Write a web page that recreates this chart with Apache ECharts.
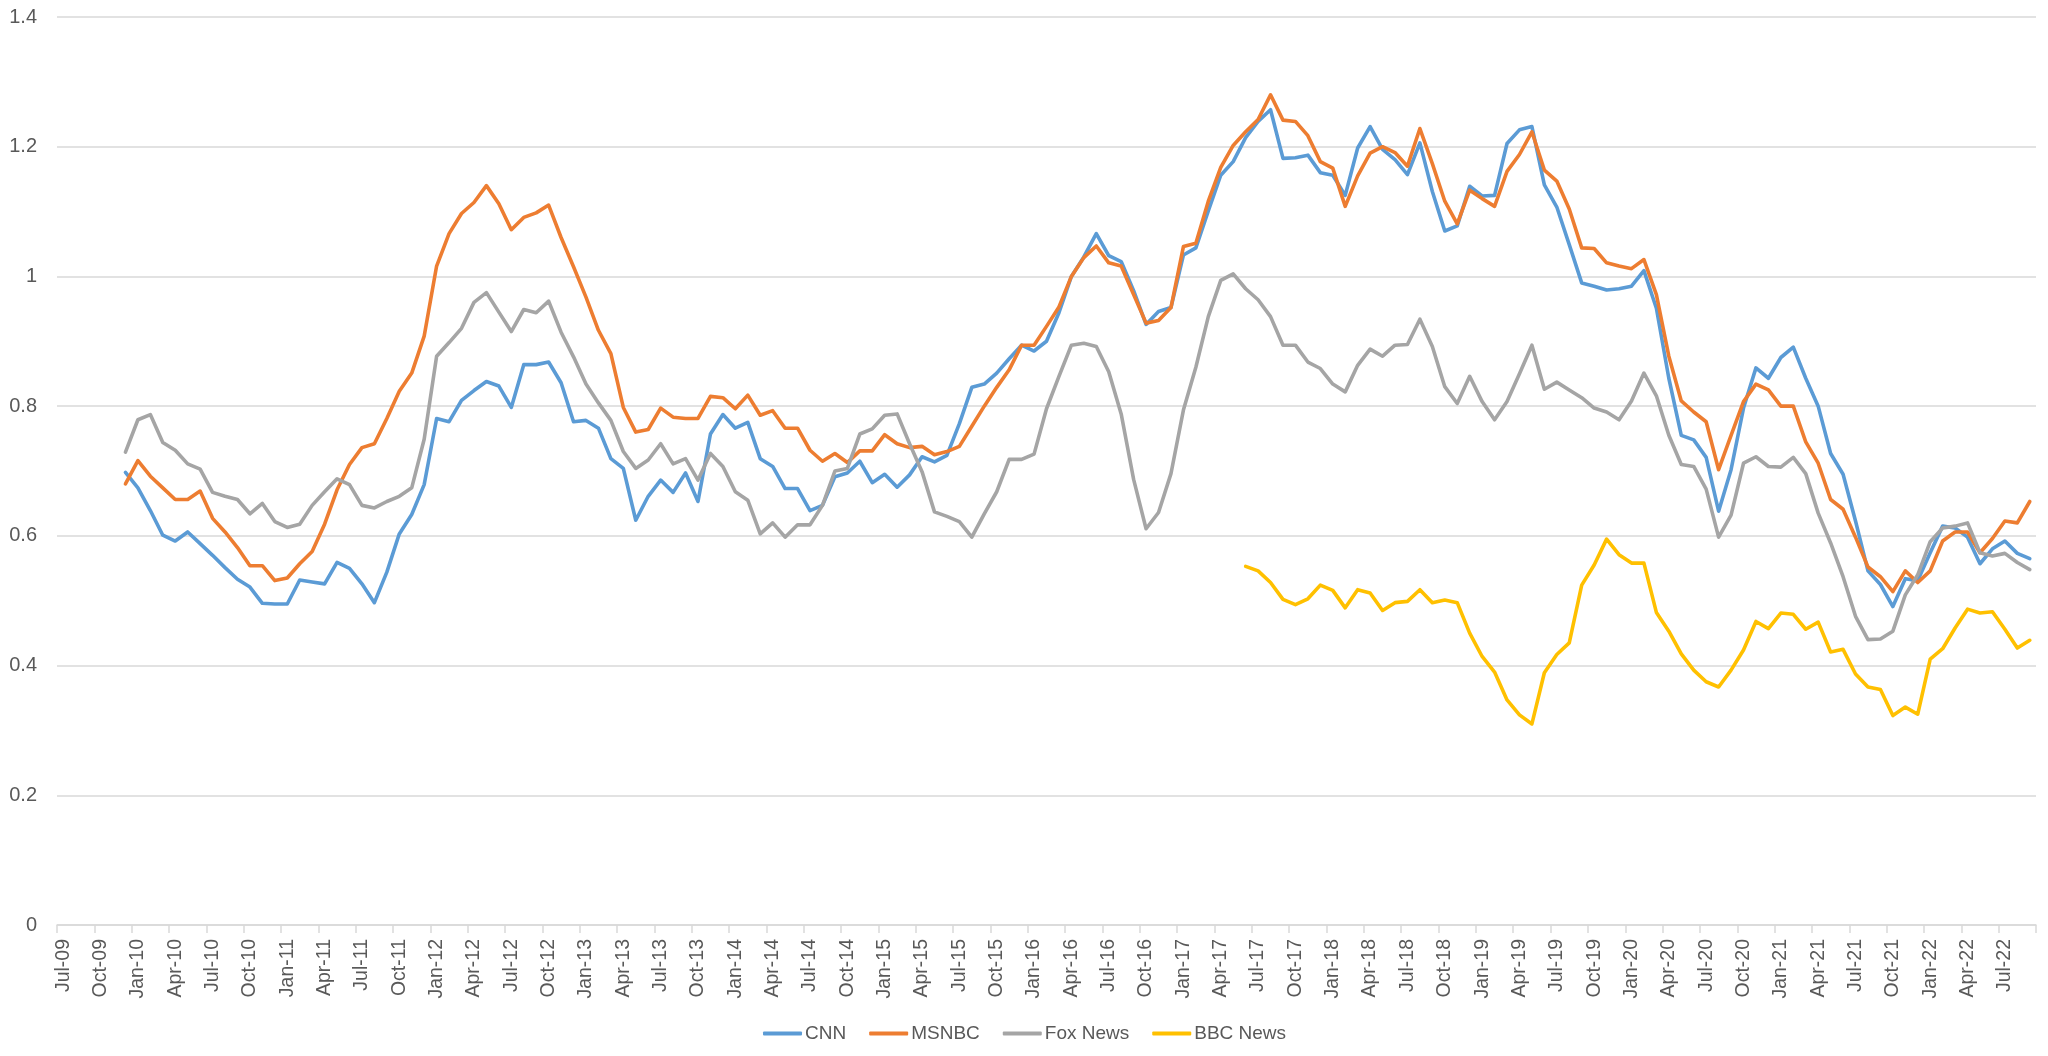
<!DOCTYPE html>
<html>
<head>
<meta charset="utf-8">
<script src="https://cdn.jsdelivr.net/npm/echarts@6/dist/echarts.min.js"></script>
<style>
html,body{margin:0;padding:0;background:#fff;}
#chart{width:2048px;height:1056px;}
</style>
</head>
<body>
<div id="chart"></div>
<script>
// Categories: monthly, Jul-09 .. Sep-22
const monthNames = ['Jan','Feb','Mar','Apr','May','Jun','Jul','Aug','Sep','Oct','Nov','Dec'];
const startYear = 2009, startMonth = 6, monthCount = 159;
const categories = [];
for (let k = 0; k < monthCount; k++) {
  const m = (startMonth + k) % 12;
  const y = startYear + Math.floor((startMonth + k) / 12);
  categories.push(monthNames[m] + '-' + String(y % 100).padStart(2, '0'));
}

const yTicks = [0, 0.2, 0.4, 0.6, 0.8, 1.0, 1.2, 1.4];
const seriesNames = ['CNN', 'MSNBC', 'Fox News', 'BBC News'];

// Dec-09 .. Sep-22
const cnn = [null,null,null,null,null,
0.698,0.674,0.639,0.601,0.592,0.606,0.588,0.570,0.551,0.533,
0.521,0.496,0.495,0.495,0.532,0.529,0.526,0.559,0.550,0.526,
0.497,0.544,0.603,0.633,0.679,0.781,0.776,0.809,0.824,0.838,
0.831,0.798,0.864,0.864,0.868,0.836,0.776,0.778,0.766,0.719,
0.704,0.624,0.661,0.686,0.667,0.697,0.653,0.757,0.787,0.766,
0.775,0.719,0.707,0.673,0.673,0.639,0.647,0.691,0.697,0.715,
0.682,0.695,0.675,0.694,0.722,0.714,0.724,0.773,0.829,0.834,
0.851,0.873,0.894,0.885,0.900,0.944,1.000,1.030,1.066,1.032,
1.023,0.978,0.926,0.946,0.952,1.033,1.044,1.101,1.156,1.177,
1.214,1.239,1.257,1.182,1.183,1.187,1.160,1.156,1.125,1.198,
1.231,1.196,1.180,1.157,1.206,1.131,1.070,1.078,1.139,1.124,
1.125,1.205,1.226,1.231,1.141,1.107,1.049,0.990,0.985,0.979,
0.981,0.985,1.009,0.951,0.843,0.755,0.748,0.721,0.638,0.702,
0.797,0.859,0.843,0.875,0.891,0.843,0.800,0.727,0.695,0.623,
0.546,0.525,0.491,0.534,0.531,0.574,0.615,0.612,0.598,0.557,
0.580,0.592,0.573,0.565];

const msnbc = [null,null,null,null,null,
0.680,0.716,0.692,0.674,0.656,0.656,0.669,0.627,0.606,0.582,
0.554,0.554,0.531,0.535,0.557,0.576,0.618,0.671,0.710,0.736,
0.742,0.781,0.823,0.851,0.908,1.016,1.066,1.097,1.114,1.140,
1.112,1.072,1.091,1.098,1.110,1.060,1.015,0.968,0.917,0.881,
0.798,0.760,0.764,0.797,0.783,0.781,0.781,0.815,0.813,0.796,
0.817,0.786,0.793,0.766,0.766,0.732,0.715,0.727,0.713,0.731,
0.731,0.756,0.742,0.736,0.738,0.725,0.730,0.738,0.769,0.800,
0.829,0.856,0.894,0.894,0.923,0.953,1.000,1.029,1.047,1.021,
1.016,0.972,0.928,0.932,0.952,1.046,1.051,1.116,1.168,1.202,
1.223,1.242,1.280,1.241,1.239,1.217,1.177,1.167,1.108,1.155,
1.190,1.200,1.191,1.170,1.228,1.174,1.116,1.081,1.133,1.120,
1.108,1.162,1.188,1.223,1.164,1.147,1.104,1.044,1.043,1.021,
1.016,1.012,1.026,0.972,0.877,0.808,0.791,0.776,0.702,0.755,
0.807,0.834,0.825,0.800,0.800,0.745,0.712,0.656,0.641,0.598,
0.552,0.537,0.514,0.546,0.528,0.546,0.592,0.606,0.606,0.574,
0.596,0.623,0.620,0.653];

const fox = [null,null,null,null,null,
0.729,0.779,0.787,0.744,0.732,0.711,0.703,0.667,0.661,0.656,
0.634,0.650,0.622,0.613,0.618,0.647,0.668,0.688,0.679,0.647,
0.643,0.653,0.661,0.674,0.749,0.877,0.898,0.920,0.960,0.975,
0.945,0.915,0.949,0.944,0.962,0.914,0.876,0.834,0.805,0.778,
0.730,0.704,0.717,0.742,0.711,0.719,0.686,0.727,0.707,0.668,
0.655,0.603,0.620,0.598,0.617,0.617,0.647,0.700,0.704,0.757,
0.765,0.786,0.788,0.742,0.699,0.637,0.630,0.622,0.598,0.634,
0.668,0.718,0.718,0.726,0.796,0.846,0.894,0.897,0.892,0.853,
0.788,0.687,0.611,0.636,0.696,0.794,0.860,0.938,0.994,1.004,
0.981,0.964,0.938,0.894,0.894,0.868,0.858,0.834,0.822,0.863,
0.888,0.877,0.894,0.895,0.934,0.892,0.830,0.804,0.846,0.807,
0.779,0.807,0.850,0.894,0.826,0.837,0.825,0.813,0.797,0.791,
0.779,0.808,0.851,0.816,0.755,0.710,0.707,0.672,0.598,0.632,
0.712,0.722,0.707,0.706,0.721,0.696,0.635,0.589,0.537,0.476,
0.440,0.441,0.453,0.509,0.540,0.591,0.612,0.615,0.620,0.574,
0.569,0.573,0.559,0.548];

const bbc = [null,null,null,null,null,
null,null,null,null,null,null,null,null,null,null,
null,null,null,null,null,null,null,null,null,null,
null,null,null,null,null,null,null,null,null,null,
null,null,null,null,null,null,null,null,null,null,
null,null,null,null,null,null,null,null,null,null,
null,null,null,null,null,null,null,null,null,null,
null,null,null,null,null,null,null,null,null,null,
null,null,null,null,null,null,null,null,null,null,
null,null,null,null,null,null,null,null,null,null,
0.553,0.546,0.528,0.502,0.494,0.503,0.524,0.516,0.489,0.517,
0.512,0.485,0.497,0.499,0.517,0.497,0.501,0.497,0.450,0.414,
0.390,0.347,0.324,0.310,0.389,0.417,0.435,0.524,0.555,0.595,
0.571,0.558,0.558,0.482,0.453,0.418,0.393,0.375,0.367,0.393,
0.424,0.468,0.457,0.481,0.479,0.456,0.467,0.421,0.425,0.387,
0.367,0.363,0.323,0.336,0.325,0.410,0.426,0.458,0.487,0.481,
0.483,0.456,0.427,0.439];

const colors = ['#5B9BD5', '#ED7D31', '#A5A5A5', '#FFC000'];
const seriesData = [cnn, msnbc, fox, bbc];

const chart = echarts.init(document.getElementById('chart'), null, {renderer: 'canvas'});
chart.setOption({
  animation: false,
  backgroundColor: '#ffffff',
  color: colors,
  grid: {left: 57, right: 12, top: 17, bottom: 131, containLabel: false},
  legend: {
    data: seriesNames,
    top: 1024,
    left: 763,
    padding: 0,
    icon: 'roundRect',
    itemWidth: 39,
    itemHeight: 4,
    itemGap: 23,
    textStyle: {fontFamily: 'Liberation Sans', fontSize: 19, color: '#595959', padding: [0,0,0,-2]}
  },
  xAxis: {
    type: 'category',
    data: categories,
    boundaryGap: true,
    axisLine: {show: true, lineStyle: {color: '#D9D9D9', width: 1.5}},
    axisTick: {show: true, interval: 2, length: 8, lineStyle: {color: '#D9D9D9', width: 1.5}},
    axisLabel: {
      interval: 2, rotate: 90, margin: 14,
      fontFamily: 'Liberation Sans', fontSize: 19.5, color: '#595959'
    },
    splitLine: {show: false}
  },
  yAxis: {
    type: 'value',
    min: 0, max: 1.4, interval: 0.2,
    axisLine: {show: false},
    axisTick: {show: false},
    axisLabel: {
      margin: 20, fontFamily: 'Liberation Sans', fontSize: 20, color: '#595959',
      formatter: function (v) { const t = yTicks.find(x => Math.abs(x - v) < 1e-6); return String(Math.round((t !== undefined ? t : v) * 10) / 10); }
    },
    splitLine: {show: true, lineStyle: {color: '#D9D9D9', width: 1.5}}
  },
  series: seriesNames.map((n, k) => ({
    name: n,
    type: 'line',
    data: seriesData[k],
    showSymbol: false,
    symbol: 'none',
    connectNulls: false,
    lineStyle: {width: 3.6, color: colors[k], join: 'round', cap: 'round'},
    emphasis: {disabled: true},
    z: 2 + k
  }))
});
</script>
</body>
</html>
